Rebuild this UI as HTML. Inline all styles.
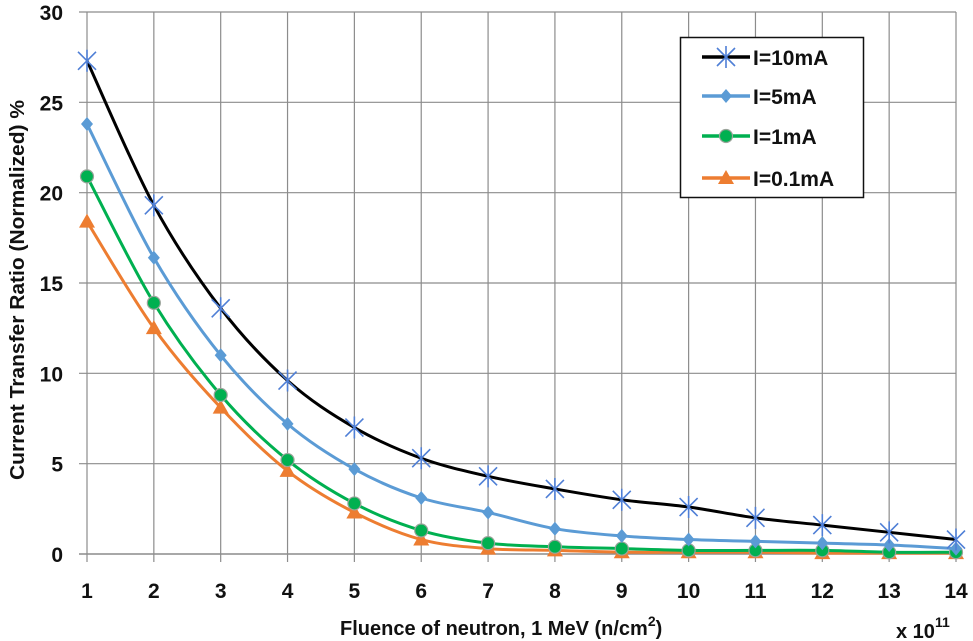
<!DOCTYPE html>
<html><head><meta charset="utf-8"><style>
body{margin:0;background:#fff;}
svg{display:block;font-family:"Liberation Sans",sans-serif;}
</style></head><body>
<svg id="chart" width="973" height="641" xmlns="http://www.w3.org/2000/svg">
<g id="grid"></g>
<g id="axes"></g>
<g id="series"></g>
<text x="24" y="290" transform="rotate(-90 24 290)" text-anchor="middle" font-size="20" font-weight="bold" fill="#111" textLength="380" lengthAdjust="spacingAndGlyphs">Current Transfer Ratio (Normalized) %</text>
<text x="340" y="635" font-size="20" font-weight="bold" fill="#111">Fluence of neutron, 1 MeV (n/cm<tspan font-size="14" dy="-9">2</tspan><tspan dy="9">)</tspan></text>
<text x="896" y="638" font-size="20" font-weight="bold" fill="#111">x 10<tspan font-size="14" dy="-11">11</tspan></text>
<g>
<rect x="680.5" y="37.5" width="183" height="160" fill="#fff" stroke="#111" stroke-width="1.5"/>
<g id="legend"></g>
</g>
</svg>
<script>
const xCats=[1,2,3,4,5,6,7,8,9,10,11,12,13,14];
const yTicks=[0,5,10,15,20,25,30];
const s10=[27.3,19.3,13.6,9.6,7.0,5.3,4.3,3.6,3.0,2.6,2.0,1.6,1.2,0.8];
const s5=[23.8,16.4,11.0,7.2,4.7,3.1,2.3,1.4,1.0,0.8,0.7,0.6,0.5,0.3];
const s1=[20.9,13.9,8.8,5.2,2.8,1.3,0.6,0.4,0.3,0.2,0.2,0.2,0.1,0.1];
const s01=[18.4,12.5,8.1,4.6,2.3,0.8,0.3,0.2,0.1,0.1,0.1,0.05,0.05,0.05];
const seriesNames=["I=10mA","I=5mA","I=1mA","I=0.1mA"];
const NS="http://www.w3.org/2000/svg";
const X=v=>87+(v-1)*(956-87)/13;
const Y=v=>554-v*(554-12)/30;
function mk(t,a,p){const e=document.createElementNS(NS,t);for(const k in a)e.setAttribute(k,a[k]);p.appendChild(e);return e;}
const grid=document.getElementById('grid'),axes=document.getElementById('axes'),ser=document.getElementById('series'),leg=document.getElementById('legend');
yTicks.forEach(t=>{if(t===0)return;const l=mk('line',{x1:79,x2:956,y1:Y(t),y2:Y(t),stroke:'#8c8c8c','stroke-width':1.2},grid);

});
yTicks.forEach(t=>{const tx=mk('text',{x:63,y:Y(t)+8,'text-anchor':'end','font-size':21,'font-weight':'bold',fill:'#111'},axes);tx.textContent=t;

});
xCats.forEach(c=>{const l=mk('line',{x1:X(c),x2:X(c),y1:12,y2:562,stroke:'#8c8c8c','stroke-width':1.2},grid);


const tx=mk('text',{x:X(c),y:598,'text-anchor':'middle','font-size':21,'font-weight':'bold',fill:'#111'},axes);tx.textContent=c;

});
const ax=mk('line',{x1:79,x2:956,y1:Y(0),y2:Y(0),stroke:'#8c8c8c','stroke-width':1.5},axes);


function smooth(pts){let d=`M${pts[0][0]},${pts[0][1]}`;for(let i=0;i<pts.length-1;i++){const p0=pts[i-1]||pts[i],p1=pts[i],p2=pts[i+1],p3=pts[i+2]||p2;
const c1=[p1[0]+(p2[0]-p0[0])/6,p1[1]+(p2[1]-p0[1])/6],c2=[p2[0]-(p3[0]-p1[0])/6,p2[1]-(p3[1]-p1[1])/6];d+=`C${c1},${c2},${p2}`;}return d;}
function marker(type,x,y,g){let e;
if(type==='star'){e=mk('path',{d:`M${x-9},${y-9}L${x+9},${y+9}M${x-9},${y+9}L${x+9},${y-9}M${x},${y-11}L${x},${y+11}`,stroke:'#4f7fd6','stroke-width':1.6,fill:'none'},g);}
else if(type==='diamond'){e=mk('path',{d:`M${x},${y-7}L${x+6},${y}L${x},${y+7}L${x-6},${y}Z`,fill:'#5b9bd5'},g);}
else if(type==='circle'){e=mk('circle',{cx:x,cy:y,r:6.5,fill:'#00b050',stroke:'#9aa39a','stroke-width':1.2},g);}
else{e=mk('path',{d:`M${x},${y-8}L${x+8},${y+6}L${x-8},${y+6}Z`,fill:'#ed7d31'},g);}

}
const defs=[[s10,'#000','star'],[s5,'#5b9bd5','diamond'],[s1,'#00b050','circle'],[s01,'#ed7d31','tri']];
[3,2,1,0].forEach(i=>{const [d,col,m]=defs[i];const g=mk('g',{},ser);


const pts=d.map((v,k)=>[X(xCats[k]),Y(v)]);
const p=mk('path',{d:smooth(pts),fill:'none',stroke:col,'stroke-width':3},g);


pts.forEach(q=>marker(m,q[0],q[1],g));});
const ly=[57,96,136,178];
defs.forEach(([d,col,m],i)=>{const g=mk('g',{},leg);


mk('line',{x1:702,x2:750,y1:ly[i],y2:ly[i],stroke:col,'stroke-width':3.5},g);
marker(m,726,ly[i],g);
const t=mk('text',{x:753,y:ly[i]+8,'font-size':21,'font-weight':'bold',fill:'#111'},g);t.textContent=seriesNames[i];});
</script>
</body></html>
